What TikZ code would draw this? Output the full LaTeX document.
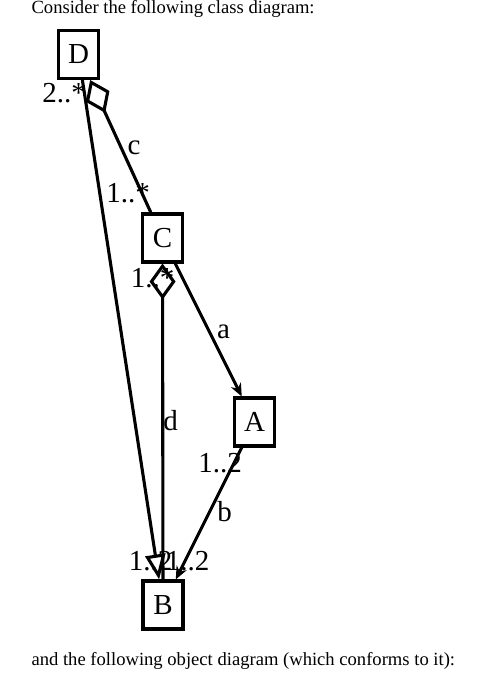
\documentclass[tikz,border=0pt]{standalone}
\usepackage{fontspec}
\setmainfont{Liberation Serif}
\usetikzlibrary{arrows.meta}

\begin{document}
\begin{tikzpicture}[x = 1pt, y = -1pt, line width = 3.1pt,
  cls/.style = {draw, minimum width = 40pt, minimum height = 48pt, inner sep = 0pt,
    font = \fontsize{29}{34}\selectfont},
  mult/.style = {inner sep = 0pt, anchor = base, font = \fontsize{29}{34}\selectfont},
  prose/.style = {inner sep = 0pt, anchor = base west, font = \fontsize{18.6}{22}\selectfont},
  agg/.style = {{Diamond[open, length = 36pt, width = 26pt]}-},
  gen/.style = {-{Triangle[open, length = 25pt, width = 20pt]}},
  nav/.style = {-{Stealth[length = 13pt, width = 11pt]}}]
\useasboundingbox (0, 0) rectangle (477, 700);

\node[prose] (top) at (30, 14) {Consider the following class diagram:};
\node[prose] (bottom) at (30, 665) {and the following object diagram (which conforms to it):};

\node[cls] (D) at (78.5, 54.5) {D};
\node[cls] (C) at (162.5, 238) {C};
\node[cls] (A) at (254.5, 422) {A};
\node[cls] (B) at (163, 605) {B};

\node[mult] (cD) at (64, 103) {2..*};
\node[mult] (cname) at (134, 155) {c};
\node[mult] (cC) at (128, 203) {1..*};
\node[mult] (dC) at (152.5, 287) {1..*};
\node[mult] (aname) at (223.5, 338) {a};
\node[mult] (dname) at (170.5, 430) {d};
\node[mult] (bA) at (220, 472) {1..2};
\node[mult] (bname) at (224.5, 521) {b};
\node[mult] (dB) at (150.5, 570) {1..2};
\node[mult] (bB) at (187.5, 570) {1..2};

\draw[agg] (D) -- (C);
\draw[gen] (D) -- (B);
\draw[agg] (C) -- (B);
\draw[nav] (C) -- (A);
\draw[nav] (A) -- (B);

\end{tikzpicture}
\end{document}
